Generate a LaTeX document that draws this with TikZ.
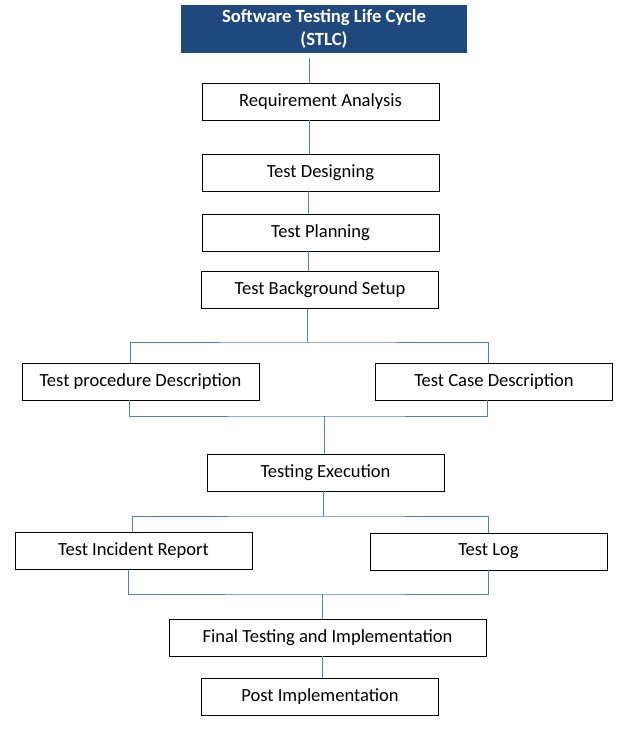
\documentclass[tikz,border=0pt]{standalone}
\usepackage{fontspec}
\setmainfont{Carlito}
\usetikzlibrary{positioning,calc}
\definecolor{hdrblue}{HTML}{1F497D}
\definecolor{lineblue}{HTML}{4F81BD}

\begin{document}
\begin{tikzpicture}[
  x=0.75pt, y=-0.75pt,
  stage/.style={rectangle, draw=black, line width=0.7pt, fill=white, inner sep=0pt,
                minimum width=#1*0.75pt, minimum height=37*0.75pt,
                font=\fontsize{13.9}{16}\selectfont},
  stage/.default=237,
  hdr/.style={rectangle, fill=hdrblue, inner sep=0pt, align=center, text=white,
              minimum width=286*0.75pt, minimum height=48*0.75pt,
              font=\bfseries\fontsize{14}{17}\selectfont},
  conn/.style={draw=lineblue, line width=0.75pt},
]
\useasboundingbox (0,0) rectangle (627,732);

% ---------- title and first stages ----------
\node[hdr]   (stlc) at (324,29)      {Software Testing Life Cycle\\(STLC)};
\node[stage] (req)  at (320.5,101.5) {Requirement Analysis};
\node[stage] (des)  at (320.5,172.5) {Test Designing};
\node[stage] (plan) at (320.5,232.5) {Test Planning};
\node[stage] (bkg)  at (320,290)     {Test Background Setup};
% ---------- descriptions ----------
\node[stage] (proc)  at (140.5,381.5) {Test procedure Description};
\node[stage] (tcase) at (494,381.5)   {Test Case Description};
% ---------- execution and reports ----------
\node[stage] (exec) at (325.5,472.5) {Testing Execution};
\node[stage] (inc)  at (133.5,551)   {Test Incident Report};
\node[stage] (log)  at (488.5,551.5) {Test Log};
% ---------- closing stages ----------
\node[stage=317] (final) at (327.5,637.5) {Final Testing and Implementation};
\node[stage]     (post)  at (320,696.5)   {Post Implementation};

% ---------- connectors ----------
\draw[conn] ([yshift=-3.5pt]stlc.south -| 309,0) -- (req.north -| 309,0);
\draw[conn] (req.south -| 309,0) -- (des.north -| 309,0);
\draw[conn] (des.south -| 308,0) -- (plan.north -| 308,0);
\draw[conn] (plan.south -| 308,0) -- (bkg.north -| 308,0);

\coordinate (s1) at (307,342);
\draw[conn] (bkg.south -| s1) -- (s1);
\draw[conn] (proc.north -| 130,0) |- (s1) -| (tcase.north -| 488,0);
\coordinate (m1) at (324,416);
\draw[conn] (proc.south -| 129,0) |- (m1) -| (tcase.south -| 487,0);
\draw[conn] (m1) -- (exec.north -| m1);

\coordinate (s2) at (323,516);
\draw[conn] (exec.south -| s2) -- (s2);
\draw[conn] (inc.north -| 132,0) |- (s2) -| (log.north -| 488,0);
\coordinate (m2) at (322,594);
\draw[conn] (inc.south -| 128,0) |- (m2) -| (log.south -| 488,0);
\draw[conn] (m2) -- (final.north -| m2);
\draw[conn] (final.south -| 322,0) -- (post.north -| 322,0);
\end{tikzpicture}
\end{document}
